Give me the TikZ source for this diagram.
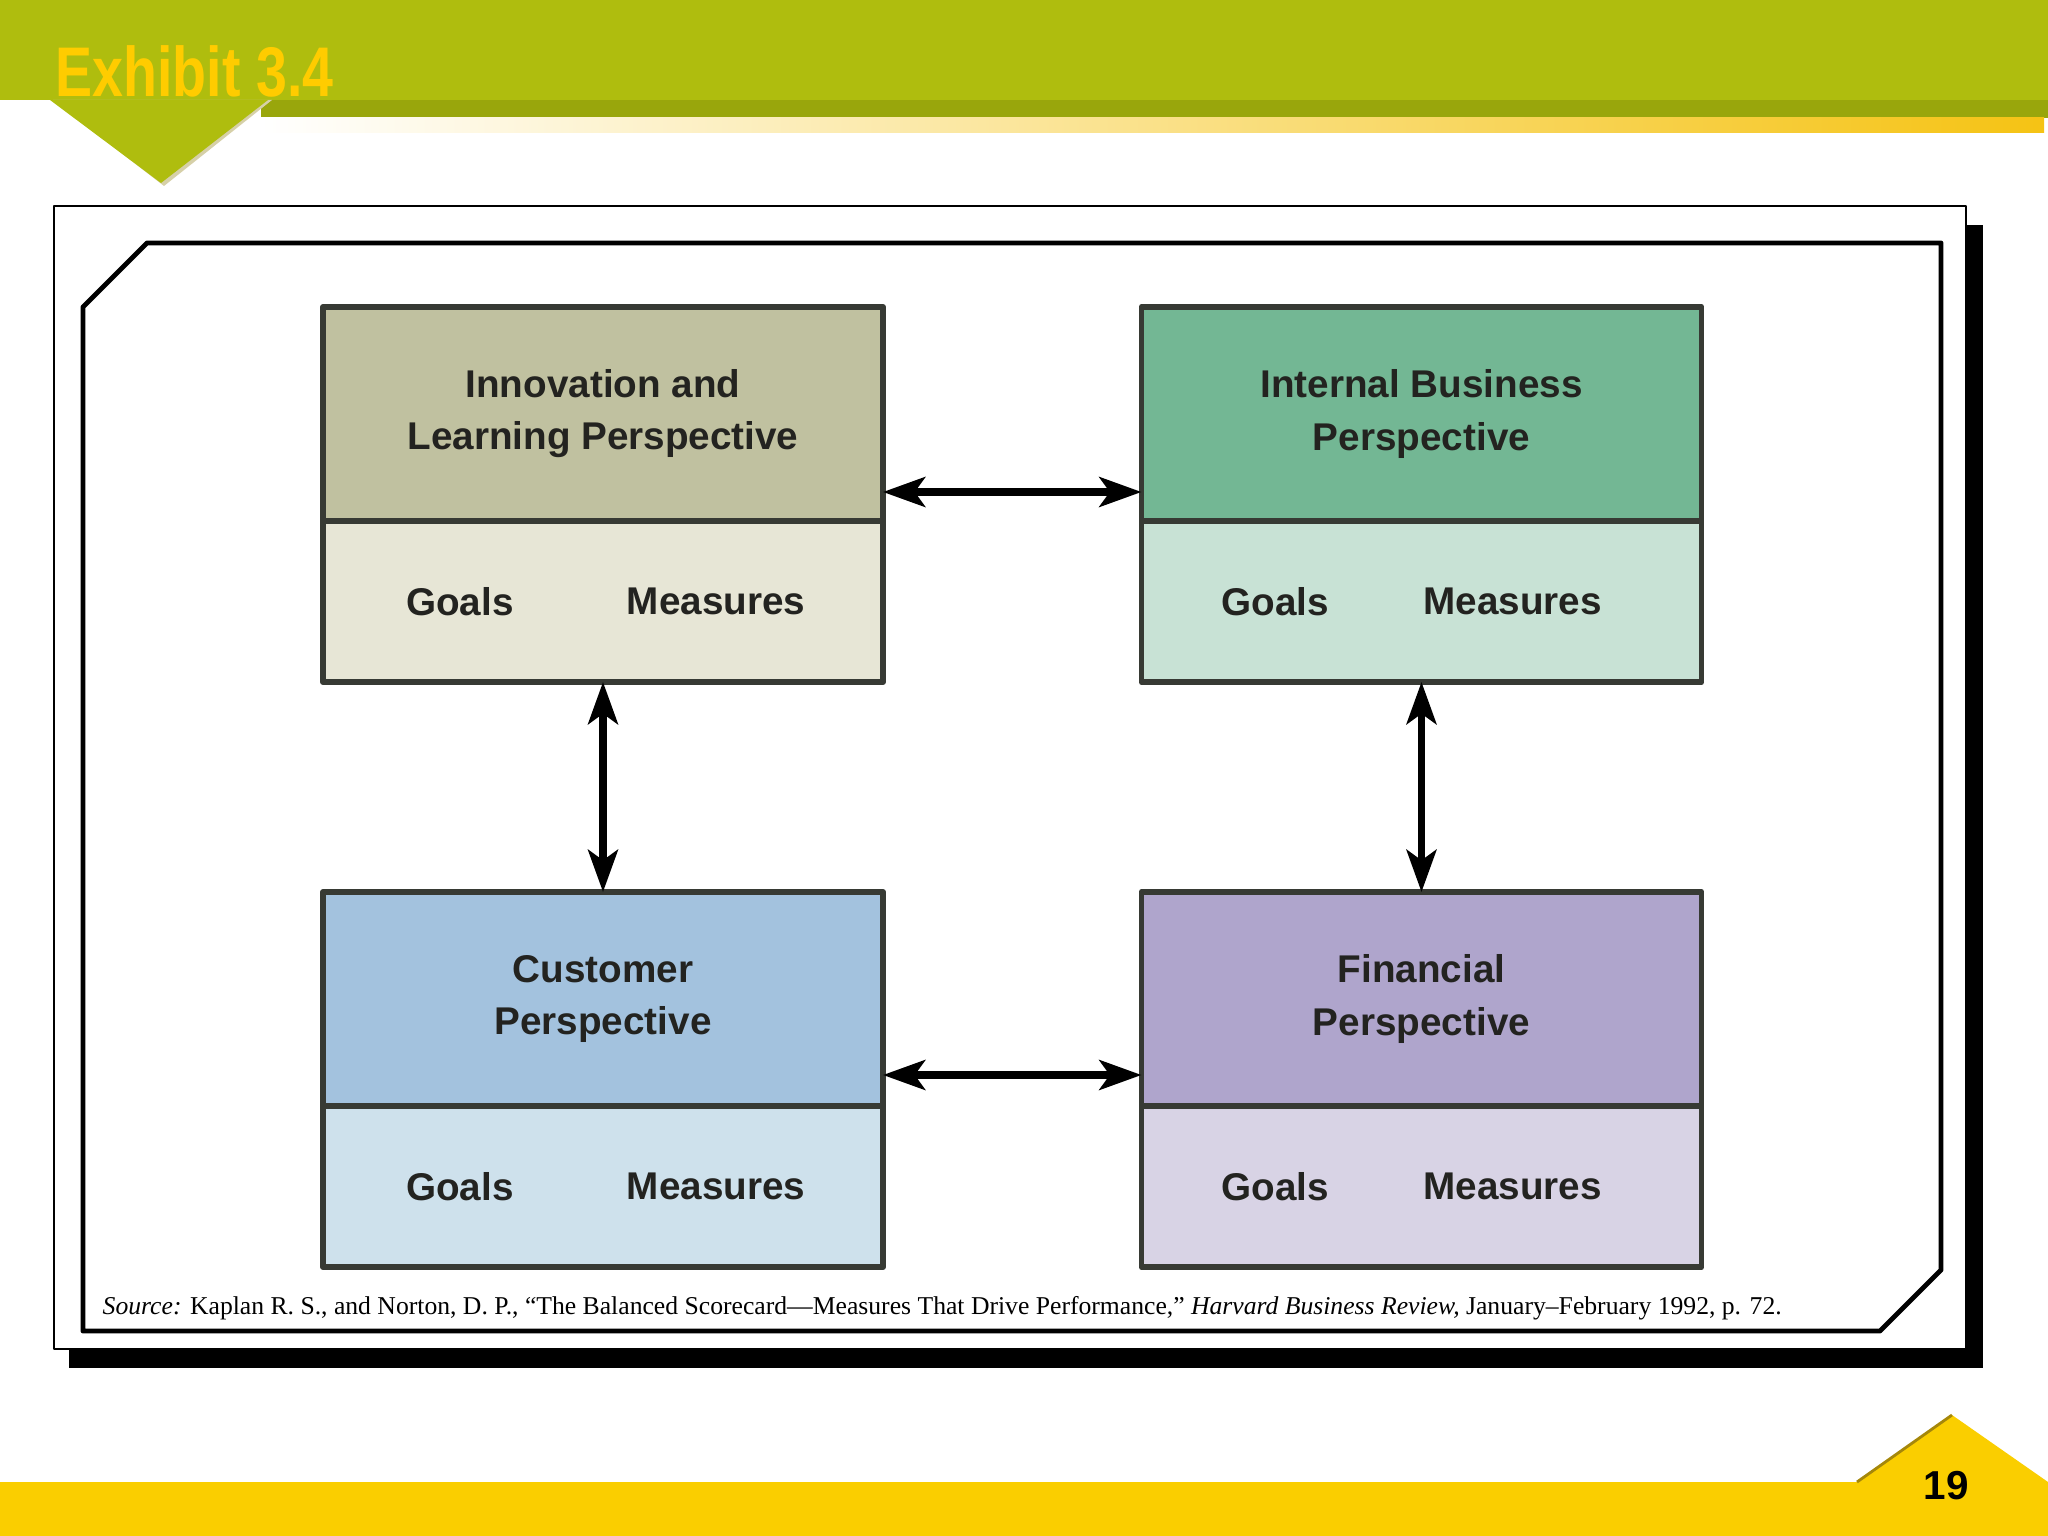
\documentclass[tikz,border=0pt]{standalone}
\usepackage{fontspec}
\setmainfont{Liberation Serif}
\setsansfont{Liberation Sans}
\usetikzlibrary{arrows.meta,positioning}
\definecolor{hdrgreen}{RGB}{175,189,14}
\definecolor{hdrdark}{RGB}{153,166,12}
\definecolor{hdryellow}{RGB}{245,195,20}
\definecolor{hdrshade}{RGB}{214,208,168}
\definecolor{titleyellow}{RGB}{255,204,0}
\definecolor{footyellow}{RGB}{250,206,0}
\definecolor{footedge}{RGB}{165,135,10}
\definecolor{boxline}{RGB}{55,58,52}
\definecolor{boxtext}{RGB}{35,35,32}
\definecolor{innhead}{RGB}{192,193,160}
\definecolor{innfoot}{RGB}{231,230,214}
\definecolor{inthead}{RGB}{115,183,148}
\definecolor{intfoot}{RGB}{200,226,213}
\definecolor{cushead}{RGB}{163,194,222}
\definecolor{cusfoot}{RGB}{206,225,236}
\definecolor{finhead}{RGB}{175,165,204}
\definecolor{finfoot}{RGB}{216,211,229}
\tikzset{
  every picture/.style={line join=round, >=Stealth},
  headbox/.style={draw=boxline, line width=1.7pt, outer sep=0pt, minimum width=5.6cm, minimum height=2.14cm,
    align=center, font=\sffamily\bfseries\fontsize{11}{14.8}\selectfont, text=boxtext},
  footbox/.style={draw=boxline, line width=1.7pt, outer sep=0pt, minimum width=5.6cm, minimum height=1.61cm, below=0pt of #1},
  tag/.style={font=\sffamily\bfseries\fontsize{11}{13}\selectfont, text=boxtext},
  link/.style={{Stealth[length=12pt,width=8.5pt,inset=3pt]}-{Stealth[length=12pt,width=8.5pt,inset=3pt]}, line width=2pt},
}
\begin{document}
\begin{tikzpicture}
\useasboundingbox (0,0) rectangle (20.48,-15.36);
\fill[hdrgreen] (0,0) rectangle (20.48,-1.00);
\fill[hdrdark] (2.61,-1.00) rectangle (20.48,-1.18);
\shade[left color=white, right color=hdryellow] (2.61,-1.18) rectangle (20.44,-1.33);
\fill[hdrshade] (0.53,-1.00) -- (2.72,-1.00) -- (1.64,-1.86) -- cycle;
\fill[hdrgreen] (0.50,-1.00) -- (2.68,-1.00) -- (1.61,-1.83) -- cycle;
\node[anchor=base west, inner sep=0pt, font=\sffamily\bfseries\fontsize{20}{24}\selectfont, text=titleyellow] (title) at (0.55,-0.97) {\scalebox{0.79}[1]{Exhibit 3.4}};

\fill[black] (0.69,-2.25) rectangle (19.83,-13.68);
\draw[fill=white, line width=0.6pt] (0.54,-2.06) rectangle (19.66,-13.49);
\draw[line width=1.4pt] (0.83,-3.07) -- (1.47,-2.43) -- (19.41,-2.43) -- (19.41,-12.70) -- (18.80,-13.31) -- (0.83,-13.31) -- cycle;

\node[headbox, fill=innhead] (inn) at (6.03,-4.14) {Innovation and\\Learning Perspective};
\node[footbox=inn, fill=innfoot] (inn-b) {};
\node[headbox, fill=inthead] (int) at (14.215,-4.14) {Internal Business\\Perspective};
\node[footbox=int, fill=intfoot] (int-b) {};
\node[headbox, fill=cushead] (cus) at (6.03,-9.99) {Customer\\Perspective};
\node[footbox=cus, fill=cusfoot] (cus-b) {};
\node[headbox, fill=finhead] (fin) at (14.215,-9.99) {Financial\\Perspective};
\node[footbox=fin, fill=finfoot] (fin-b) {};

\node[tag] (inn-g) at ([xshift=-1.43cm]inn-b.center) {Goals};
\node[tag] (inn-m) at ([xshift=1.13cm]inn-b.center) {Measures};
\node[tag] (int-g) at ([xshift=-1.46cm]int-b.center) {Goals};
\node[tag] (int-m) at ([xshift=0.91cm]int-b.center) {Measures};
\node[tag] (cus-g) at ([xshift=-1.43cm]cus-b.center) {Goals};
\node[tag] (cus-m) at ([xshift=1.13cm]cus-b.center) {Measures};
\node[tag] (fin-g) at ([xshift=-1.46cm]fin-b.center) {Goals};
\node[tag] (fin-m) at ([xshift=0.91cm]fin-b.center) {Measures};

\draw[link] ([yshift=0.29cm]inn.south east) -- ([yshift=0.29cm]int.south west);
\draw[link] ([yshift=0.31cm]cus.south east) -- ([yshift=0.31cm]fin.south west);
\draw[link] (inn-b.south) -- (cus.north);
\draw[link] (int-b.south) -- (fin.north);

\node[anchor=base west, inner sep=0pt, font=\fontsize{7.3}{9}\selectfont] (src) at (1.02,-13.14)
  {\textit{Source:} Kaplan R. S., and Norton, D. P., “The Balanced Scorecard—Measures That Drive Performance,” \textit{Harvard Business Review,} January–February 1992, p. 72.};

\fill[footyellow] (0,-14.82) rectangle (20.48,-15.36);
\fill[footyellow] (18.57,-14.82) -- (19.52,-14.15) -- (20.48,-14.82) -- cycle;
\draw[footedge, line width=0.8pt] (18.57,-14.82) -- (19.52,-14.15);
\node[font=\sffamily\bfseries\fontsize{11.5}{13}\selectfont] (pg) at (19.46,-14.86) {19};
\end{tikzpicture}
\end{document}
